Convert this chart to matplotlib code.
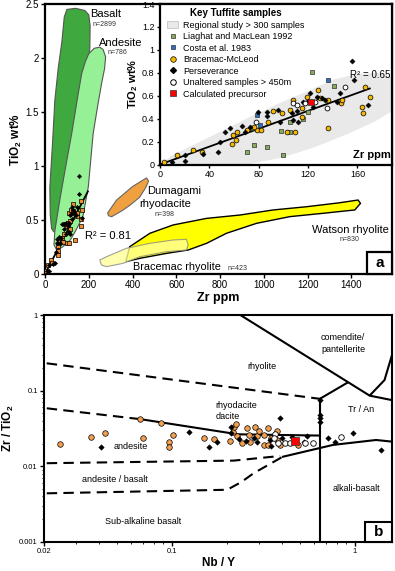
import numpy as np
import matplotlib
matplotlib.use("Agg")
import matplotlib.pyplot as plt
from matplotlib.patches import Polygon, Rectangle, Patch
from matplotlib.lines import Line2D
from matplotlib.ticker import FixedLocator, LogLocator, NullFormatter

plt.rcParams['font.family'] = ['Liberation Sans', 'DejaVu Sans']
plt.rcParams['mathtext.fontset'] = 'custom'
plt.rcParams['mathtext.rm'] = 'Liberation Sans'
plt.rcParams['mathtext.bf'] = 'Liberation Sans:bold'

# ---------------- Panel a : field outlines (Zr ppm, TiO2 wt%) ----------------
basalt_x = [100, 140, 182, 200, 206, 205, 195, 160, 110, 68, 40, 30, 24, 22, 28, 34, 45, 60, 77, 88]
basalt_y = [2.45, 2.46, 2.44, 2.40, 2.30, 2.10, 1.80, 1.20, 0.70, 0.40, 0.39, 0.42, 0.55, 0.80, 1.00, 1.20, 1.61, 1.90, 2.15, 2.38]
andesite_x = [250, 265, 277, 272, 259, 240, 220, 198, 173, 140, 114, 80, 54, 41, 45, 68, 95, 122, 150, 168, 185, 200, 225]
andesite_y = [2.10, 2.08, 2.01, 1.90, 1.77, 1.55, 1.30, 0.81, 0.53, 0.40, 0.31, 0.25, 0.22, 0.27, 0.40, 0.69, 1.00, 1.30, 1.65, 1.86, 1.97, 2.04, 2.09]
dumagami_x = [286, 327, 400, 464, 473, 460, 432, 390, 355, 304, 290]
dumagami_y = [0.565, 0.685, 0.81, 0.89, 0.86, 0.80, 0.71, 0.64, 0.59, 0.53, 0.54]
watson_x = [387, 479, 585, 738, 890, 1042, 1195, 1347, 1430, 1441, 1415, 1270, 1118, 966, 829, 738, 654, 555, 433, 369]
watson_y = [0.253, 0.377, 0.454, 0.515, 0.546, 0.593, 0.623, 0.66, 0.685, 0.654, 0.593, 0.562, 0.531, 0.469, 0.377, 0.284, 0.222, 0.191, 0.145, 0.114]
bracrhy_x = [250, 281, 372, 479, 585, 646, 654, 646, 555, 433, 357, 281, 258]
bracrhy_y = [0.130, 0.16, 0.238, 0.284, 0.315, 0.321, 0.269, 0.222, 0.207, 0.16, 0.099, 0.068, 0.083]

# regional study envelope (inset)
region_x = [0, 10, 27, 46, 70, 100, 120, 140, 160, 178, 188, 192, 190, 175, 153, 125, 99, 70, 40, 15, 0]
region_y = [0.0, 0.08, 0.17, 0.27, 0.40, 0.55, 0.64, 0.74, 0.79, 0.80, 0.76, 0.62, 0.48, 0.38, 0.27, 0.15, 0.06, 0.0, -0.02, -0.03, -0.02]

# ---------------- Tuffite samples (Zr ppm, TiO2 wt%) ----------------
brac_zr = [3.2, 13.5, 26.5, 33.8, 58, 59.5, 62.7, 61.6, 70.3, 79, 87.8, 91.9, 98.7, 102.7, 105.4, 108.1,
           109.5, 114.9, 114.9, 119, 128.4, 129.8, 136, 136.5, 146.5, 147.2, 163.6, 164.2, 166.3, 170.3, 82, 76]
brac_ti = [0.025, 0.08, 0.13, 0.106, 0.176, 0.258, 0.287, 0.214, 0.30, 0.30, 0.374, 0.467, 0.447, 0.287, 0.476, 0.563,
           0.287, 0.418, 0.49, 0.592, 0.651, 0.584, 0.316, 0.563, 0.534, 0.563, 0.505, 0.447, 0.68, 0.592, 0.30, 0.33]
pers_zr = [9.5, 20.3, 20.3, 35, 47.3, 48.7, 52.7, 56.8, 66.2, 68.9, 73, 79.7, 86.5, 86.5, 96, 97.3, 106.8, 108.1,
           110.8, 112.2, 116.2, 120.3, 121.7, 124.3, 127.1, 131.1, 133.8, 143.3, 146, 155.5, 157.3, 168.9]
pers_ti = [0.025, 0.03, 0.083, 0.09, 0.106, 0.2, 0.287, 0.32, 0.339, 0.287, 0.33, 0.46, 0.46, 0.42, 0.476, 0.374,
           0.447, 0.389, 0.47, 0.374, 0.548, 0.555, 0.622, 0.505, 0.592, 0.578, 0.563, 0.548, 0.622, 0.904, 0.738, 0.52]
unalt_zr = [108.1, 110.8, 117.6, 125.7, 135.2, 150, 78]
unalt_ti = [0.534, 0.52, 0.534, 0.548, 0.496, 0.68, 0.37]
liag_zr = [70.8, 74.4, 76.2, 87, 98.1, 99.5, 105.4, 105.4, 115.7, 120.3, 123.5, 141.1]
liag_ti = [0.112, 0.32, 0.17, 0.156, 0.29, 0.083, 0.374, 0.287, 0.40, 0.461, 0.81, 0.688]
costa_zr = [78.9, 81.1, 136.5]
costa_ti = [0.432, 0.345, 0.738]
prec_zr = [122.5]
prec_ti = [0.543]

fit_main_x = [0, 196]
fit_main_y = [0, 0.765]
fit_in_x = [0, 170]
fit_in_y = [0, 0.663]

# ---------------- Panel b : Winchester & Floyd (Nb/Y, Zr/TiO2) ----------------
b_brac_nby = [0.0244, 0.036, 0.0432, 0.0672, 0.0871, 0.0698, 0.0967, 0.0967, 0.101, 0.15, 0.17, 0.209, 0.216,
              0.226, 0.243, 0.258, 0.263, 0.286, 0.292, 0.269, 0.318, 0.337, 0.347, 0.318, 0.337, 0.391, 0.376,
              0.49, 0.218, 0.223, 0.30, 0.376]
b_brac_zrti = [0.0198, 0.0247, 0.0274, 0.042, 0.037, 0.024, 0.0212, 0.0182, 0.026, 0.0235, 0.023, 0.0217, 0.028,
               0.025, 0.0201, 0.032, 0.026, 0.033, 0.025, 0.0212, 0.026, 0.032, 0.0235, 0.019, 0.019, 0.019, 0.0223,
               0.019, 0.0335, 0.036, 0.029, 0.029]
b_pers_nby = [0.041, 0.124, 0.16, 0.176, 0.211, 0.232, 0.253, 0.28, 0.292, 0.345, 0.35, 0.40, 0.452, 0.547,
              0.525, 0.645, 0.645, 0.645, 0.645, 0.391, 0.716, 0.778, 0.978, 1.397, 0.21]
b_pers_zrti = [0.0182, 0.0285, 0.018, 0.0212, 0.0274, 0.0228, 0.0217, 0.0235, 0.0212, 0.0223, 0.0185, 0.0235,
               0.0247, 0.025, 0.0212, 0.075, 0.0478, 0.0433, 0.039, 0.0433, 0.0235, 0.0212, 0.0274, 0.0164, 0.033]
b_unalt_nby = [0.368, 0.36, 0.383, 0.416, 0.443, 0.536, 0.594, 0.847]
b_unalt_zrti = [0.027, 0.0235, 0.0201, 0.0201, 0.0201, 0.0205, 0.0205, 0.0247]
b_prec_nby = [0.473]
b_prec_zrti = [0.0217]

# field boundaries
solid_lines = [
    ([0.0679, 0.23, 0.645], [0.0419, 0.0265, 0.0255]),
    ([0.237, 1.207, 1.6], [1.0, 0.086, 0.075]),
    ([1.6, 1.456, 1.207], [0.296, 0.138, 0.086]),
    ([0.645, 0.92], [0.078, 0.129]),
    ([0.645, 0.645], [0.078, 0.001]),
    ([0.40, 0.762, 1.31, 1.6], [0.0133, 0.0192, 0.0223, 0.0212]),
]
dashed_lines = [
    ([0.0207, 0.645], [0.23, 0.078]),
    ([0.0207, 0.0679], [0.0585, 0.0419]),
    ([0.0207, 0.218, 0.391], [0.011, 0.0119, 0.0137]),
    ([0.0207, 0.2007, 0.24, 0.28, 0.40], [0.0044, 0.0049, 0.0062, 0.0081, 0.0132]),
]

W, H = 395, 571
fig = plt.figure(figsize=(W / 100, H / 100), dpi=100)

def fr(x0, y0, x1, y1):
    return [x0 / W, 1 - y1 / H, (x1 - x0) / W, (y1 - y0) / H]

# ======================= Panel a =======================
ax = fig.add_axes(fr(45, 4, 392, 274))
ax.set_xlim(0, 1585)
ax.set_ylim(0, 2.5)
ax.add_patch(Polygon(np.column_stack([basalt_x, basalt_y]), closed=True, fc='#3fa83f', ec='#555555', lw=0.8, zorder=2))
ax.add_patch(Polygon(np.column_stack([andesite_x, andesite_y]), closed=True, fc='#96f096', ec='#555555', lw=0.8, zorder=3))
ax.add_patch(Polygon(np.column_stack([dumagami_x, dumagami_y]), closed=True, fc='#f0a040', ec='#666666', lw=0.8, zorder=2))
ax.add_patch(Polygon(np.column_stack([watson_x, watson_y]), closed=True, fc='#ffff00', ec='black', lw=1.0, zorder=2))
ax.add_patch(Polygon(np.column_stack([bracrhy_x, bracrhy_y]), closed=True, fc='#ffff99', ec='#888888', lw=0.8, alpha=0.8, zorder=3))
ax.plot(fit_main_x, fit_main_y, color='black', lw=1.3, zorder=4)
ax.scatter(brac_zr, brac_ti, marker='s', s=9, c='#f08c30', edgecolors='black', linewidths=0.5, zorder=5)
ax.scatter(pers_zr, pers_ti, marker='D', s=5, c='black', edgecolors='black', linewidths=0.3, zorder=5)

ax.text(205, 2.41, 'Basalt', fontsize=8, va='center')
ax.text(219, 2.31, 'n=2899', fontsize=5, va='center', color='#333333')
ax.text(246, 2.14, 'Andesite', fontsize=8, va='center')
ax.text(287, 2.05, 'n=786', fontsize=5, va='center', color='#333333')
ax.text(466, 0.77, 'Dumagami', fontsize=8, va='center')
ax.text(429, 0.65, 'rhyodacite', fontsize=8, va='center')
ax.text(544, 0.555, 'n=398', fontsize=5, va='center', ha='center', color='#333333')
ax.text(1219, 0.41, 'Watson rhyolite', fontsize=8, va='center')
ax.text(1392, 0.315, 'n=830', fontsize=5, va='center', ha='center', color='#333333')
ax.text(401, 0.065, 'Bracemac rhyolite', fontsize=7.8, va='center')
ax.text(832, 0.055, 'n=423', fontsize=5, va='center', color='#333333')
ax.text(182, 0.35, 'R² = 0.81', fontsize=8, va='center')

ax.set_xticks(np.arange(0, 1401, 200))
ax.set_yticks([0, 0.5, 1, 1.5, 2, 2.5])
ax.set_yticklabels(['0', '0.5', '1', '1.5', '2', '2.5'])
ax.tick_params(direction='out', length=3, width=1, labelsize=7, pad=1.5)
for s in ax.spines.values():
    s.set_linewidth(1.6)
ax.set_xlabel('Zr ppm', fontsize=9, fontweight='bold', labelpad=1)
ax.set_ylabel(r'TiO$_{\mathbf{2}}$ wt%', fontsize=8.5, fontweight='bold', labelpad=1)
ax.add_patch(Rectangle((0.928, 0.0), 0.072, 0.081, transform=ax.transAxes, fc='white', ec='black', lw=1.6, zorder=6, clip_on=False))
ax.text(0.964, 0.040, 'a', transform=ax.transAxes, fontsize=11, fontweight='bold', ha='center', va='center', zorder=7)

# ======================= Inset =======================
axi = fig.add_axes(fr(160, 4, 392, 164.5))
axi.set_facecolor('white')
axi.set_xlim(0, 188)
axi.set_ylim(0, 1.4)
axi.add_patch(Polygon(np.column_stack([region_x, region_y]), closed=True, fc='#e9e9e9', ec='none', zorder=1))
axi.text(187, 0.78, 'R² = 0.65', fontsize=7, ha='right', va='center', zorder=1.5)
axi.plot(fit_in_x, fit_in_y, color='black', lw=1.3, zorder=3)
axi.scatter(liag_zr, liag_ti, marker='s', s=11, c='#8aab5a', edgecolors='#333333', linewidths=0.5, zorder=4)
axi.scatter(costa_zr, costa_ti, marker='s', s=11, c='#2c6fc0', edgecolors='#333333', linewidths=0.5, zorder=4)
axi.scatter(brac_zr, brac_ti, marker='o', s=12, c='#f5b800', edgecolors='black', linewidths=0.5, zorder=4)
axi.scatter(pers_zr, pers_ti, marker='D', s=7, c='black', edgecolors='black', linewidths=0.3, zorder=4)
axi.scatter(unalt_zr, unalt_ti, marker='o', s=12, c='white', edgecolors='black', linewidths=0.6, zorder=4)
axi.scatter(prec_zr, prec_ti, marker='s', s=22, c='#ff0000', edgecolors='#333333', linewidths=0.5, zorder=5)
axi.set_xticks([0, 40, 80, 120, 160])
axi.set_yticks([0, 0.2, 0.4, 0.6, 0.8, 1.0, 1.2, 1.4])
axi.set_yticklabels(['0', '0.2', '0.4', '0.6', '0.8', '1', '1.2', '1.4'])
axi.tick_params(direction='out', length=2.5, width=1, labelsize=6.5, pad=1.5)
for s in axi.spines.values():
    s.set_linewidth(1.6)
axi.set_ylabel(r'TiO$_{\mathbf{2}}$ wt%', fontsize=8, fontweight='bold', labelpad=1)
axi.text(0.995, 0.03, 'Zr ppm', transform=axi.transAxes, fontsize=8, fontweight='bold', ha='right', va='bottom')

handles = [
    Patch(fc='#e9e9e9', ec='#bbbbbb', lw=0.5),
    Line2D([], [], ls='none', marker='s', ms=3.5, mfc='#8aab5a', mec='#333333', mew=0.5),
    Line2D([], [], ls='none', marker='s', ms=3.5, mfc='#2c6fc0', mec='#333333', mew=0.5),
    Line2D([], [], ls='none', marker='o', ms=4, mfc='#f5b800', mec='black', mew=0.5),
    Line2D([], [], ls='none', marker='D', ms=3, mfc='black', mec='black'),
    Line2D([], [], ls='none', marker='o', ms=4, mfc='white', mec='black', mew=0.7),
    Line2D([], [], ls='none', marker='s', ms=5, mfc='#ff0000', mec='#333333', mew=0.5),
]
labels = ['Regional study > 300 samples', 'Liaghat and MacLean 1992', 'Costa et al. 1983',
          'Bracemac-McLeod', 'Perseverance', 'Unaltered samples > 450m', 'Calculated precursor']
leg = axi.legend(handles, labels, loc='upper left', bbox_to_anchor=(0.0, 1.02), frameon=False,
                 fontsize=6.5, title='Key Tuffite samples', title_fontproperties={'weight': 'bold', 'size': 7},
                 handlelength=1.2, handleheight=0.8, handletextpad=0.6, labelspacing=0.28, borderpad=0.3)
leg.set_zorder(6)

# ======================= Panel b =======================
axb = fig.add_axes(fr(44, 315, 392, 542))
axb.set_xscale('log')
axb.set_yscale('log')
axb.set_xlim(0.02, 1.6)
axb.set_ylim(0.001, 1)
for xs, ys in solid_lines:
    axb.plot(xs, ys, color='black', lw=1.5, zorder=2, solid_capstyle='butt')
for xs, ys in dashed_lines:
    axb.plot(xs, ys, color='black', lw=1.5, ls=(0, (5, 3)), zorder=2)
axb.scatter(b_brac_nby, b_brac_zrti, marker='o', s=16, c='#f0a050', edgecolors='black', linewidths=0.5, zorder=4)
axb.scatter(b_pers_nby, b_pers_zrti, marker='D', s=8, c='black', edgecolors='black', linewidths=0.3, zorder=4)
axb.scatter(b_unalt_nby, b_unalt_zrti, marker='o', s=16, c='white', edgecolors='black', linewidths=0.6, zorder=4)
axb.scatter(b_prec_nby, b_prec_zrti, marker='s', s=28, c='#ff0000', edgecolors='#333333', linewidths=0.5, zorder=5)

fs = 6.5
axb.text(0.863, 0.42, 'comendite/\npantellerite', fontsize=fs, ha='center', va='center', linespacing=1.3)
axb.text(0.311, 0.207, 'rhyolite', fontsize=fs, ha='center', va='center')
axb.text(0.1735, 0.054, 'rhyodacite\ndacite', fontsize=fs, ha='left', va='center', linespacing=1.3)
axb.text(1.087, 0.0556, 'Tr / An', fontsize=fs, ha='center', va='center')
axb.text(0.0599, 0.0182, 'andesite', fontsize=fs, ha='center', va='center')
axb.text(0.0486, 0.0066, 'andesite / basalt', fontsize=fs, ha='center', va='center')
axb.text(1.02, 0.0051, 'alkali-basalt', fontsize=fs, ha='center', va='center')
axb.text(0.0693, 0.00186, 'Sub-alkaline basalt', fontsize=fs, ha='center', va='center')

axb.xaxis.set_major_locator(FixedLocator([0.02, 0.1, 1]))
axb.set_xticklabels(['0.02', '0.1', '1'])
axb.xaxis.set_minor_locator(LogLocator(base=10, subs=np.arange(2, 10)))
axb.xaxis.set_minor_formatter(NullFormatter())
axb.yaxis.set_major_locator(FixedLocator([0.001, 0.01, 0.1, 1]))
axb.set_yticklabels(['0.001', '0.01', '0.1', '1'])
axb.yaxis.set_minor_locator(LogLocator(base=10, subs=np.arange(2, 10)))
axb.yaxis.set_minor_formatter(NullFormatter())
axb.tick_params(which='major', direction='out', length=3, width=1, labelsize=5.5, pad=1.5)
axb.tick_params(which='minor', direction='out', length=1.5, width=0.6)
for s in axb.spines.values():
    s.set_linewidth(1.5)
axb.set_xlabel('Nb / Y', fontsize=8.5, fontweight='bold', labelpad=1)
axb.set_ylabel(r'Zr / TiO$_{\mathbf{2}}$', fontsize=8.5, fontweight='bold', labelpad=2)
axb.add_patch(Rectangle((0.922, 0.0), 0.078, 0.088, transform=axb.transAxes, fc='white', ec='black', lw=1.5, zorder=6, clip_on=False))
axb.text(0.961, 0.044, 'b', transform=axb.transAxes, fontsize=11, fontweight='bold', ha='center', va='center', zorder=7)

fig.savefig('out.png', dpi=100)
